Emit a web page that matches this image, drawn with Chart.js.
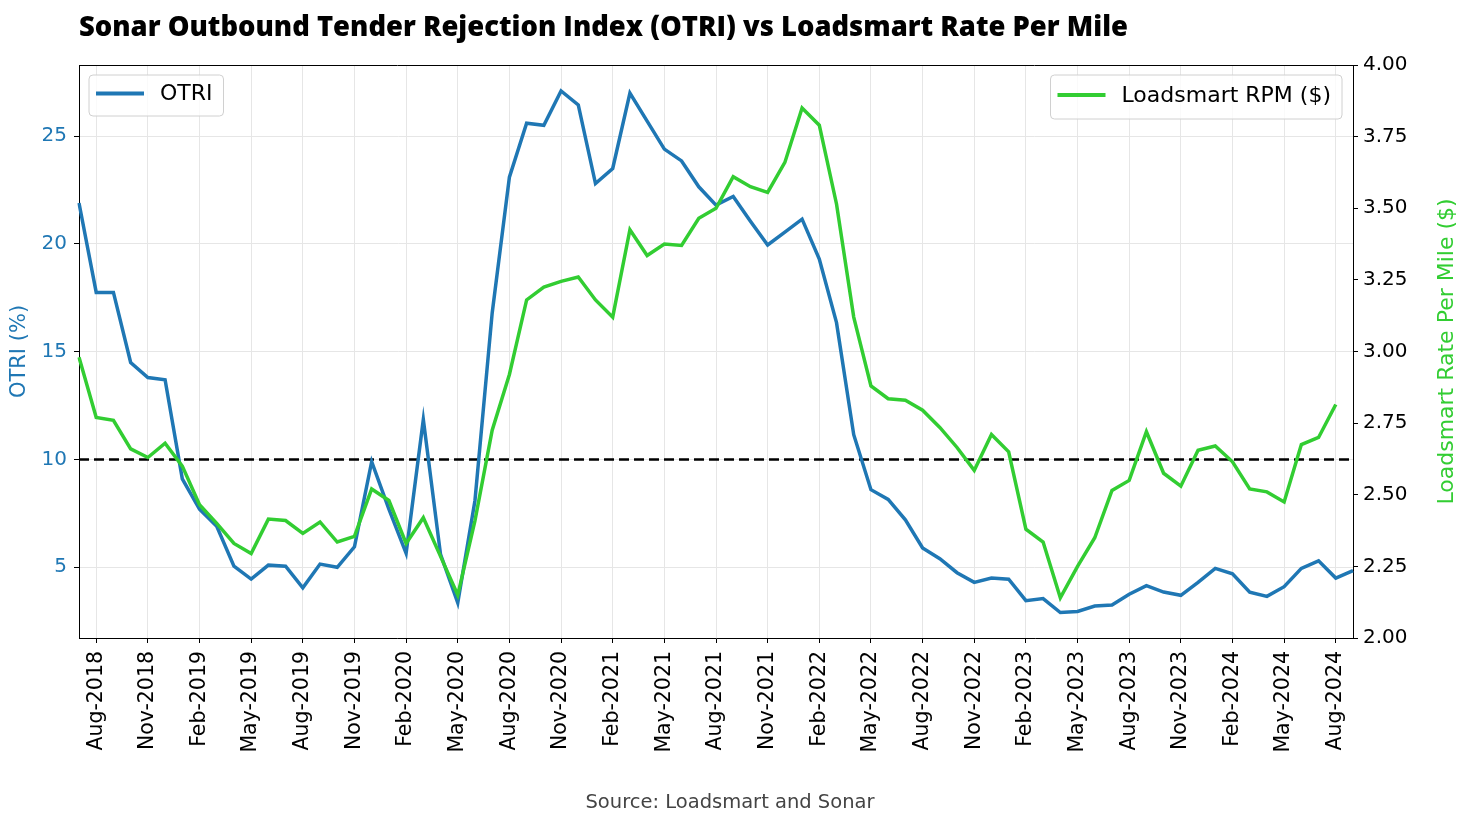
<!DOCTYPE html>
<html>
<head>
<meta charset="utf-8">
<title>OTRI vs Loadsmart RPM</title>
<script src="https://cdn.jsdelivr.net/npm/chart.js@4.4.1/dist/chart.umd.min.js"></script>
<style>
  html, body { margin: 0; padding: 0; background: #fff; }
  #wrap { position: relative; width: 1472px; height: 825px; }
  #chart { position: absolute; left: 0; top: 0; }
  #title {
    position: absolute; left: 79px; top: 7px;
    font: 800 27.4px 'Open Sans', sans-serif; color: #000; white-space: nowrap;
  }
  #source {
    position: absolute; left: 0; top: 790px; width: 1460px; text-align: center;
    font: 19.5px 'DejaVu Sans', sans-serif; color: #444;
  }
</style>
</head>
<body>
<div id="wrap">
  <canvas id="chart" width="1472" height="825"></canvas>
  <div id="title">Sonar Outbound Tender Rejection Index (OTRI) vs Loadsmart Rate Per Mile</div>
  <div id="source">Source: Loadsmart and Sonar</div>
</div>
<script>
// monthly, Jul-2018 .. Sep-2024
const months = [
  'Jul-2018', 'Aug-2018', 'Sep-2018', 'Oct-2018', 'Nov-2018', 'Dec-2018',
  'Jan-2019', 'Feb-2019', 'Mar-2019', 'Apr-2019', 'May-2019', 'Jun-2019',
  'Jul-2019', 'Aug-2019', 'Sep-2019', 'Oct-2019', 'Nov-2019', 'Dec-2019',
  'Jan-2020', 'Feb-2020', 'Mar-2020', 'Apr-2020', 'May-2020', 'Jun-2020',
  'Jul-2020', 'Aug-2020', 'Sep-2020', 'Oct-2020', 'Nov-2020', 'Dec-2020',
  'Jan-2021', 'Feb-2021', 'Mar-2021', 'Apr-2021', 'May-2021', 'Jun-2021',
  'Jul-2021', 'Aug-2021', 'Sep-2021', 'Oct-2021', 'Nov-2021', 'Dec-2021',
  'Jan-2022', 'Feb-2022', 'Mar-2022', 'Apr-2022', 'May-2022', 'Jun-2022',
  'Jul-2022', 'Aug-2022', 'Sep-2022', 'Oct-2022', 'Nov-2022', 'Dec-2022',
  'Jan-2023', 'Feb-2023', 'Mar-2023', 'Apr-2023', 'May-2023', 'Jun-2023',
  'Jul-2023', 'Aug-2023', 'Sep-2023', 'Oct-2023', 'Nov-2023', 'Dec-2023',
  'Jan-2024', 'Feb-2024', 'Mar-2024', 'Apr-2024', 'May-2024', 'Jun-2024',
  'Jul-2024', 'Aug-2024', 'Sep-2024',
];

// labels shown on the x axis
const tickLabels = [
  'Aug-2018', 'Nov-2018', 'Feb-2019', 'May-2019', 'Aug-2019', 'Nov-2019',
  'Feb-2020', 'May-2020', 'Aug-2020', 'Nov-2020', 'Feb-2021', 'May-2021',
  'Aug-2021', 'Nov-2021', 'Feb-2022', 'May-2022', 'Aug-2022', 'Nov-2022',
  'Feb-2023', 'May-2023', 'Aug-2023', 'Nov-2023', 'Feb-2024', 'May-2024',
  'Aug-2024',
];

// OTRI (%)
const otri = [
  21.9, 17.75, 17.75, 14.5, 13.8, 13.7, 9.1, 7.7, 6.9, 5.05,
  4.45, 5.1, 5.05, 4.05, 5.15, 5.0, 5.95, 9.9, 7.7, 5.65,
  11.85, 5.6, 3.35, 8.1, 16.8, 23.1, 25.6, 25.5, 27.1, 26.45,
  22.8, 23.5, 27.0, 25.7, 24.4, 23.85, 22.65, 21.8, 22.2, 21.05,
  19.95, 20.55, 21.15, 19.3, 16.35, 11.15, 8.6, 8.15, 7.2, 5.9,
  5.4, 4.75, 4.3, 4.5, 4.45, 3.45, 3.55, 2.9, 2.95, 3.2,
  3.25, 3.75, 4.15, 3.85, 3.7, 4.3, 4.95, 4.7, 3.85, 3.65,
  4.1, 4.95, 5.3, 4.5, 4.85,
];

// Loadsmart rate per mile ($)
const rpm = [
  2.98, 2.77, 2.76, 2.66, 2.63, 2.68, 2.60, 2.465, 2.40, 2.33,
  2.295, 2.415, 2.41, 2.365, 2.405, 2.335, 2.355, 2.52, 2.48, 2.33,
  2.42, 2.285, 2.15, 2.41, 2.725, 2.92, 3.18, 3.225, 3.245, 3.26,
  3.18, 3.12, 3.425, 3.335, 3.375, 3.37, 3.465, 3.50, 3.61, 3.575,
  3.555, 3.66, 3.85, 3.79, 3.515, 3.12, 2.88, 2.835, 2.83, 2.795,
  2.735, 2.665, 2.585, 2.71, 2.65, 2.38, 2.335, 2.14, 2.25, 2.35,
  2.515, 2.55, 2.72, 2.575, 2.53, 2.655, 2.67, 2.615, 2.52, 2.51,
  2.475, 2.675, 2.70, 2.815, null,
];

const threshold = 10; // OTRI reference line

const BLUE = '#1f77b4';
const GREEN = '#32cd32';
const GRID = '#e6e6e6';
const FONT = "'DejaVu Sans', sans-serif";

// legends drawn inside the plot, matplotlib style
const insideLegend = {
  id: 'insideLegend',
  afterDatasetsDraw(chart, args, opts) {
    const { ctx, chartArea } = chart;
    ctx.save();
    ctx.font = `${opts.size}px ${FONT}`;
    ctx.textBaseline = 'middle';
    opts.items.forEach((item) => {
      const ds = chart.data.datasets[item.dataset];
      const w = 71 + ctx.measureText(ds.label).width + 11;
      const h = item.height;
      const x = item.side === 'left' ? chartArea.left + 10 : chartArea.right - 11 - w;
      const y = chartArea.top + 10;
      ctx.beginPath();
      ctx.roundRect(x, y, w, h, 4);
      ctx.fillStyle = 'rgba(255,255,255,0.8)';
      ctx.fill();
      ctx.strokeStyle = '#d0d0d0';
      ctx.lineWidth = 1;
      ctx.stroke();
      const ly = y + h / 2 - 2;
      ctx.beginPath();
      ctx.moveTo(x + 7, ly);
      ctx.lineTo(x + 55, ly);
      ctx.strokeStyle = ds.borderColor;
      ctx.lineWidth = 4;
      ctx.stroke();
      ctx.fillStyle = '#000';
      ctx.fillText(ds.label, x + 71, ly + 1);
    });
    ctx.restore();
  },
};

// top spine + right axis title (reads bottom to top, like the left one)
const frame = {
  id: 'frame',
  afterDraw(chart, args, opts) {
    const { ctx, chartArea } = chart;
    ctx.save();
    ctx.strokeStyle = '#000';
    ctx.lineWidth = 1;
    ctx.beginPath();
    ctx.moveTo(chartArea.left, chartArea.top + 0.5);
    ctx.lineTo(chartArea.right, chartArea.top + 0.5);
    ctx.stroke();

    ctx.translate(chart.width - 25, (chartArea.top + chartArea.bottom) / 2);
    ctx.rotate(-Math.PI / 2);
    ctx.font = `${opts.size}px ${FONT}`;
    ctx.fillStyle = GREEN;
    ctx.textAlign = 'center';
    ctx.textBaseline = 'middle';
    ctx.fillText(opts.rightTitle, 0, 0);
    ctx.restore();
  },
};

const showTick = (i) => tickLabels.includes(months[i]);

new Chart(document.getElementById('chart'), {
  type: 'line',
  data: {
    labels: months,
    datasets: [
      {
        label: 'Loadsmart RPM ($)',
        data: rpm,
        yAxisID: 'y1',
        borderColor: GREEN,
        borderWidth: 3.5,
        pointRadius: 0,
        tension: 0,
        order: 1,
      },
      {
        label: 'OTRI',
        data: otri,
        yAxisID: 'y',
        borderColor: BLUE,
        borderWidth: 3.5,
        pointRadius: 0,
        tension: 0,
        order: 2,
      },
      {
        label: 'threshold',
        data: months.map(() => threshold),
        yAxisID: 'y',
        borderColor: '#000',
        borderWidth: 2.5,
        borderDash: [10, 5],
        pointRadius: 0,
        order: 3,
      },
    ],
  },
  options: {
    responsive: false,
    animation: false,
    devicePixelRatio: 1,
    layout: { padding: { top: 65, left: 0, right: 0, bottom: 0 } },
    plugins: {
      legend: { display: false },
      tooltip: { enabled: false },
      insideLegend: {
        size: 22,
        items: [
          { dataset: 1, side: 'left', height: 41 },
          { dataset: 0, side: 'right', height: 44 },
        ],
      },
      frame: { size: 22, rightTitle: 'Loadsmart Rate Per Mile ($)' },
    },
    scales: {
      x: {
        type: 'category',
        offset: false,
        afterFit: (scale) => { scale.height = 187; },
        grid: {
          color: (ctx) => (showTick(ctx.index) ? GRID : 'transparent'),
          tickColor: (ctx) => (showTick(ctx.index) ? '#000' : 'transparent'),
          tickLength: 5,
        },
        border: { color: '#000', width: 1 },
        ticks: {
          autoSkip: false,
          minRotation: 90,
          maxRotation: 90,
          padding: 8,
          color: '#000',
          font: { family: FONT, size: 20.5 },
          callback: (v, i) => (showTick(i) ? months[i] : ''),
        },
      },
      y: {
        position: 'left',
        min: 1.72,
        max: 28.3,
        afterFit: (scale) => { scale.width = 79; },
        grid: { color: GRID, tickColor: '#000', tickLength: 5 },
        border: { color: '#000', width: 1 },
        ticks: {
          stepSize: 5,
          includeBounds: false,
          padding: 7,
          color: BLUE,
          font: { family: FONT, size: 20 },
        },
        title: {
          display: true,
          text: 'OTRI (%)',
          color: BLUE,
          font: { family: FONT, size: 21 },
          padding: { top: 7, bottom: 0 },
        },
      },
      y1: {
        position: 'right',
        min: 2,
        max: 4,
        afterFit: (scale) => { scale.width = 119; },
        grid: { drawOnChartArea: false, tickColor: '#000', tickLength: 5 },
        border: { color: '#000', width: 1 },
        ticks: {
          stepSize: 0.25,
          padding: 5,
          color: '#000',
          font: { family: FONT, size: 20 },
          callback: (v) => v.toFixed(2),
        },
      },
    },
  },
  plugins: [insideLegend, frame],
});
</script>
</body>
</html>
